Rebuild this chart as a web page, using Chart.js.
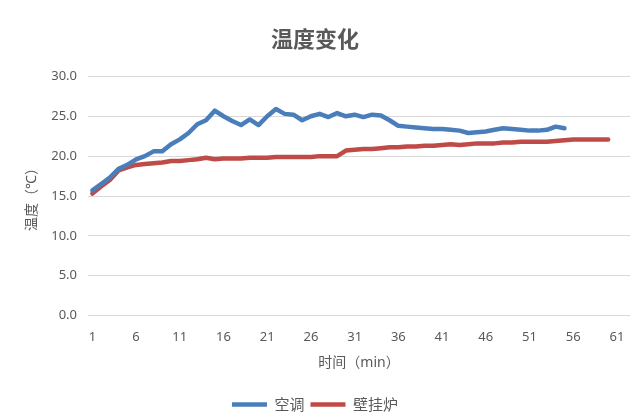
<!DOCTYPE html>
<html>
<head>
<meta charset="utf-8">
<script src="https://cdn.jsdelivr.net/npm/chart.js@4"></script>
<style>
  html, body { margin: 0; padding: 0; background: #ffffff; }
  #wrap { width: 640px; height: 418px; }
</style>
</head>
<body>
<div id="wrap"><canvas id="tempChart" width="640" height="418"></canvas></div>
<script>
// 时间（min）
const minutes = [
    1, 2, 3, 4, 5, 6, 7, 8, 9, 10, 11, 12, 13, 14, 15, 16, 17, 18, 19, 20,
    21, 22, 23, 24, 25, 26, 27, 28, 29, 30, 31, 32, 33, 34, 35, 36, 37, 38, 39, 40,
    41, 42, 43, 44, 45, 46, 47, 48, 49, 50, 51, 52, 53, 54, 55, 56, 57, 58, 59, 60,
    61, 62
];

// 空调
const airCon = [
    15.7, 16.5, 17.3, 18.4, 18.9, 19.6, 20.0, 20.6, 20.6, 21.5,
    22.1, 22.9, 24.0, 24.5, 25.7, 25.0, 24.4, 23.9, 24.6, 23.9,
    25.0, 25.9, 25.3, 25.2, 24.5, 25.0, 25.3, 24.9, 25.4, 25.0,
    25.2, 24.9, 25.2, 25.1, 24.5, 23.8, 23.7, 23.6, 23.5, 23.4,
    23.4, 23.3, 23.2, 22.9, 23.0, 23.1, 23.3, 23.5, 23.4, 23.3,
    23.2, 23.2, 23.3, 23.7, 23.5
];

// 壁挂炉
const wallBoiler = [
    15.3, 16.2, 17.0, 18.2, 18.6, 18.9, 19.0, 19.1, 19.2, 19.4,
    19.4, 19.5, 19.6, 19.8, 19.6, 19.7, 19.7, 19.7, 19.8, 19.8,
    19.8, 19.9, 19.9, 19.9, 19.9, 19.9, 20.0, 20.0, 20.0, 20.7,
    20.8, 20.9, 20.9, 21.0, 21.1, 21.1, 21.2, 21.2, 21.3, 21.3,
    21.4, 21.5, 21.4, 21.5, 21.6, 21.6, 21.6, 21.7, 21.7, 21.8,
    21.8, 21.8, 21.8, 21.9, 22.0, 22.1, 22.1, 22.1, 22.1, 22.1
];

const yMin = 0;
const yMax = 30;
const yStep = 5;

const textColor = '#595959';
const gridColor = '#d9d9d9';
const fontFamily = "'Noto Sans', 'Noto Sans CJK SC', sans-serif";

const ctx = document.getElementById('tempChart');

new Chart(ctx, {
    type: 'line',
    data: {
        labels: minutes,
        datasets: [
            {
                label: '空调',
                data: airCon,
                borderColor: '#4a7ebb',
                backgroundColor: '#4a7ebb',
                borderWidth: 4.5,
                borderCapStyle: 'round',
                borderJoinStyle: 'round',
                pointRadius: 0,
                tension: 0
            },
            {
                label: '壁挂炉',
                data: wallBoiler,
                borderColor: '#be4b48',
                backgroundColor: '#be4b48',
                borderWidth: 4.5,
                borderCapStyle: 'round',
                borderJoinStyle: 'round',
                pointRadius: 0,
                tension: 0
            }
        ]
    },
    options: {
        responsive: false,
        animation: false,
        layout: {
            // legend keeps 10px under itself, pull it down a little
            padding: { left: 0, right: 10, top: 0, bottom: -4 }
        },
        plugins: {
            title: {
                display: true,
                text: '温度变化',
                color: textColor,
                font: { family: "'Noto Sans CJK SC', sans-serif", size: 22, weight: 'bold' },
                padding: { top: 25, bottom: 25 }
            },
            legend: {
                position: 'bottom',
                labels: {
                    color: textColor,
                    font: { family: "'Noto Sans CJK SC', sans-serif", size: 15 },
                    usePointStyle: true,
                    pointStyle: 'line',
                    pointStyleWidth: 35,
                    padding: 6
                }
            },
            tooltip: { enabled: false }
        },
        scales: {
            x: {
                type: 'category',
                offset: true,
                grid: { display: false },
                border: { display: false },
                ticks: {
                    color: textColor,
                    font: { family: fontFamily, size: 13 },
                    autoSkip: false,
                    maxRotation: 0,
                    padding: 6,
                    callback: function(value, index) {
                        return index % 5 === 0 ? minutes[index] : '';
                    }
                },
                title: {
                    display: true,
                    text: '时间（min）',
                    color: textColor,
                    font: { family: fontFamily, size: 14 },
                    padding: { top: 3, bottom: 20 }
                }
            },
            y: {
                min: yMin,
                max: yMax,
                ticks: {
                    stepSize: yStep,
                    color: textColor,
                    font: { family: fontFamily, size: 13 },
                    padding: 11,
                    callback: function(value) {
                        return value.toFixed(1);
                    }
                },
                grid: { color: gridColor, lineWidth: 1, drawTicks: false },
                border: { display: false },
                title: {
                    display: true,
                    text: '温度（℃）',
                    color: textColor,
                    font: { family: fontFamily, size: 14 },
                    padding: { top: 24, bottom: 0 }
                },
                afterFit: function(scale) {
                    scale.width = 88;
                }
            }
        }
    }
});
</script>
</body>
</html>
